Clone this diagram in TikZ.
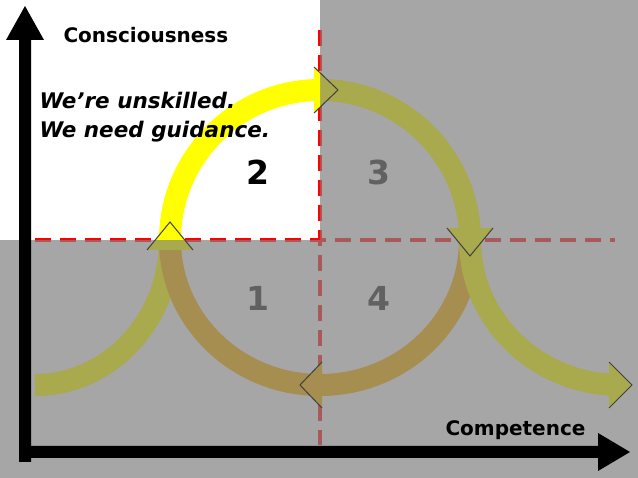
\documentclass[tikz,border=0pt]{standalone}
\usepackage{fontspec}
\setmainfont{DejaVu Sans}
\begin{document}
\begin{tikzpicture}[x=1pt,y=-1pt,
  band/.style={line width=22pt},
  chev/.style={draw=black!75,line width=1pt,line join=miter},
  num/.style={font=\bfseries\fontsize{33}{36}\selectfont,text=black!62},
  lbl/.style={font=\bfseries\fontsize{20}{24}\selectfont,anchor=west}]
\definecolor{bg}{HTML}{A6A6A6}
\definecolor{oli}{HTML}{A9A94E}
\definecolor{brn}{HTML}{A58E50}
\definecolor{yel}{HTML}{FFFF00}
\definecolor{dred}{HTML}{A85A5A}
\useasboundingbox (0,0) rectangle (638,478);
\fill[bg] (0,0) rectangle (638,478);
\fill[white] (0,0) rectangle (320,240);
% dashed lines
\draw[dred,line width=4pt,dash pattern=on 16pt off 9pt] (35,240) -- (615,240);
\draw[dred,line width=4pt,dash pattern=on 16pt off 9pt] (320,30) -- (320,445);
\begin{scope}
\clip (0,0) rectangle (320,240);
\draw[red,line width=4pt,dash pattern=on 16pt off 9pt] (35,240) -- (615,240);
\draw[red,line width=4pt,dash pattern=on 16pt off 9pt] (320,30) -- (320,445);
\end{scope}
% bands
\draw[band,oli] (35,385) arc[start angle=270,end angle=360,x radius=135,y radius=-145];
\draw[band,brn] (470,240) arc[start angle=0,end angle=-180,x radius=150,y radius=-145];
\draw[band,oli] (470,240) arc[start angle=180,end angle=270,x radius=150,y radius=-145];
\draw[band,oli] (320,90) arc[start angle=90,end angle=0,x radius=150,y radius=-150];
\draw[band,yel] (170,240) arc[start angle=180,end angle=90,x radius=150,y radius=-150];
% arrowheads
\coordinate (h1) at (338,90);
\fill[oli] (314,67) -- (h1) -- (314,113) -- cycle;
\begin{scope}
\clip (0,0) rectangle (320,240);
\fill[yel] (314,67) -- (h1) -- (314,113) -- cycle;
\end{scope}
\draw[chev] (314,67) -- (h1) -- (314,113);
\coordinate (h2) at (170,222);
\fill[oli] (147,250) -- (h2) -- (193,250) -- cycle;
\begin{scope}
\clip (0,0) rectangle (320,240);
\fill[yel] (147,250) -- (h2) -- (193,250) -- cycle;
\end{scope}
\draw[chev] (147,250) -- (h2) -- (193,250);
\coordinate (h3) at (470,256);
\fill[oli] (447,228) -- (h3) -- (493,228) -- cycle;
\draw[chev] (447,228) -- (h3) -- (493,228);
\coordinate (h4) at (300,385);
\fill[brn] (322,362) -- (h4) -- (322,408) -- cycle;
\draw[chev] (322,362) -- (h4) -- (322,408);
\coordinate (h5) at (632,385);
\fill[oli] (609,362) -- (h5) -- (609,408) -- cycle;
\draw[chev] (609,362) -- (h5) -- (609,408);
% axes
\fill[black] (19,462) -- (31,462) -- (31,40) -- (44,40) -- (25,6) -- (6,40) -- (19,40) -- cycle;
\fill[black] (19,446) -- (598,446) -- (598,433) -- (630,452) -- (598,471) -- (598,458) -- (19,458) -- cycle;
% texts
\node[lbl] (cons) at (60,35) {Consciousness};
\node[lbl] (comp) at (442,430) {Competence};
\node[lbl,font=\bfseries\itshape\fontsize{21.5}{29}\selectfont,align=left,anchor=north west] (txt) at (36,89) {We’re unskilled.\\We need guidance.};
\node[num,text=black] (n2) at (258,172) {2};
\node[num] (n3) at (379,172) {3};
\node[num] (n1) at (258,298) {1};
\node[num] (n4) at (379,298) {4};
\end{tikzpicture}
\end{document}
